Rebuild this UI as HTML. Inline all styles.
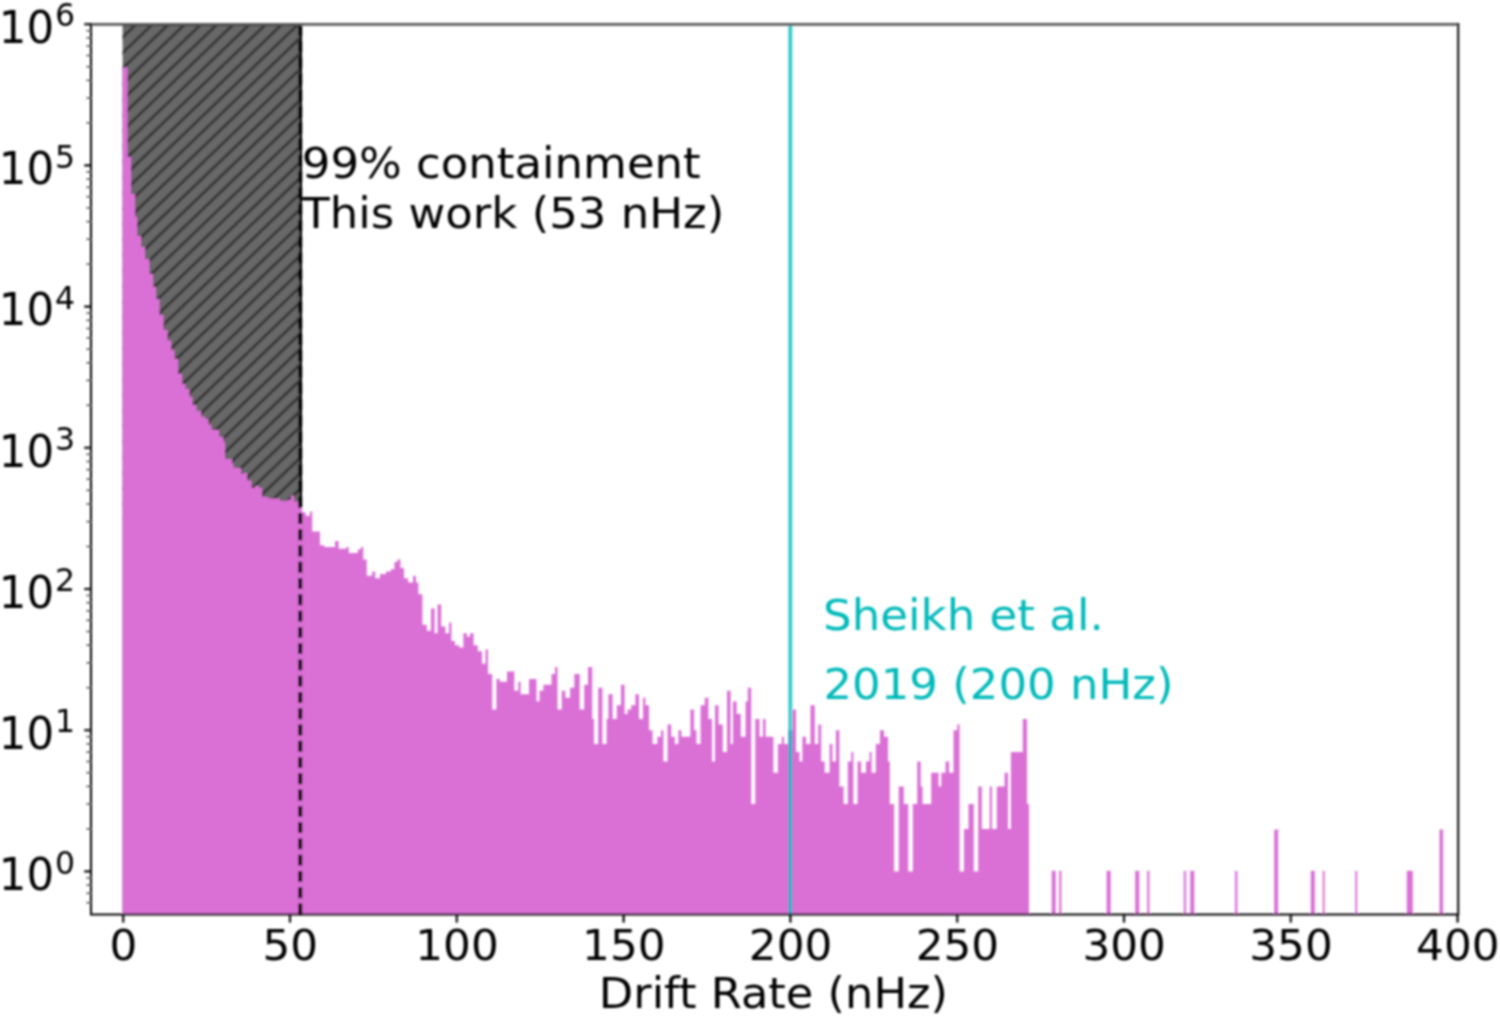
<!DOCTYPE html>
<html lang="en"><head><meta charset="utf-8"><title>Drift Rate histogram</title>
<style>html,body{margin:0;padding:0;background:#fff;overflow:hidden}svg{display:block}text{font-family:"DejaVu Sans","Liberation Sans",sans-serif;}</style></head><body>
<svg width="1500" height="1017" viewBox="0 0 1500 1017">
<defs>
<pattern id="hatch" patternUnits="userSpaceOnUse" width="16.3" height="16.3" x="0" y="0"><rect width="16.3" height="16.3" fill="#676767"/><path d="M-4.075,4.075 L4.075,-4.075 M0,16.3 L16.3,0 M12.225,20.375 L20.375,12.225" stroke="#383838" stroke-width="2.6" fill="none"/></pattern>
<filter id="soft" x="0" y="0" width="100%" height="100%" filterUnits="userSpaceOnUse"><feGaussianBlur stdDeviation="0.85"/></filter>
<clipPath id="ax"><rect x="91.0" y="24.4" width="1367.2" height="890.0"/></clipPath>
</defs>
<rect width="1500" height="1017" fill="#fff"/>
<g filter="url(#soft)">
<rect x="122.6" y="24.4" width="178.4" height="890.0" fill="#676767"/>
<clipPath id="gclip"><rect x="122.6" y="24.4" width="178.4" height="495.6"/></clipPath>
<g clip-path="url(#gclip)">
<line x1="117.6" y1="26.59" x2="306.0" y2="-154.27" stroke="#383838" stroke-width="3.0"/>
<line x1="117.6" y1="42.14" x2="306.0" y2="-138.72" stroke="#383838" stroke-width="3.0"/>
<line x1="117.6" y1="57.70" x2="306.0" y2="-123.17" stroke="#383838" stroke-width="3.0"/>
<line x1="117.6" y1="73.25" x2="306.0" y2="-107.62" stroke="#383838" stroke-width="3.0"/>
<line x1="117.6" y1="88.80" x2="306.0" y2="-92.06" stroke="#383838" stroke-width="3.0"/>
<line x1="117.6" y1="104.35" x2="306.0" y2="-76.51" stroke="#383838" stroke-width="3.0"/>
<line x1="117.6" y1="119.90" x2="306.0" y2="-60.96" stroke="#383838" stroke-width="3.0"/>
<line x1="117.6" y1="135.46" x2="306.0" y2="-45.41" stroke="#383838" stroke-width="3.0"/>
<line x1="117.6" y1="151.01" x2="306.0" y2="-29.86" stroke="#383838" stroke-width="3.0"/>
<line x1="117.6" y1="166.56" x2="306.0" y2="-14.30" stroke="#383838" stroke-width="3.0"/>
<line x1="117.6" y1="182.11" x2="306.0" y2="1.25" stroke="#383838" stroke-width="3.0"/>
<line x1="117.6" y1="197.66" x2="306.0" y2="16.80" stroke="#383838" stroke-width="3.0"/>
<line x1="117.6" y1="213.22" x2="306.0" y2="32.35" stroke="#383838" stroke-width="3.0"/>
<line x1="117.6" y1="228.77" x2="306.0" y2="47.90" stroke="#383838" stroke-width="3.0"/>
<line x1="117.6" y1="244.32" x2="306.0" y2="63.46" stroke="#383838" stroke-width="3.0"/>
<line x1="117.6" y1="259.87" x2="306.0" y2="79.01" stroke="#383838" stroke-width="3.0"/>
<line x1="117.6" y1="275.42" x2="306.0" y2="94.56" stroke="#383838" stroke-width="3.0"/>
<line x1="117.6" y1="290.98" x2="306.0" y2="110.11" stroke="#383838" stroke-width="3.0"/>
<line x1="117.6" y1="306.53" x2="306.0" y2="125.66" stroke="#383838" stroke-width="3.0"/>
<line x1="117.6" y1="322.08" x2="306.0" y2="141.22" stroke="#383838" stroke-width="3.0"/>
<line x1="117.6" y1="337.63" x2="306.0" y2="156.77" stroke="#383838" stroke-width="3.0"/>
<line x1="117.6" y1="353.18" x2="306.0" y2="172.32" stroke="#383838" stroke-width="3.0"/>
<line x1="117.6" y1="368.74" x2="306.0" y2="187.87" stroke="#383838" stroke-width="3.0"/>
<line x1="117.6" y1="384.29" x2="306.0" y2="203.42" stroke="#383838" stroke-width="3.0"/>
<line x1="117.6" y1="399.84" x2="306.0" y2="218.98" stroke="#383838" stroke-width="3.0"/>
<line x1="117.6" y1="415.39" x2="306.0" y2="234.53" stroke="#383838" stroke-width="3.0"/>
<line x1="117.6" y1="430.94" x2="306.0" y2="250.08" stroke="#383838" stroke-width="3.0"/>
<line x1="117.6" y1="446.50" x2="306.0" y2="265.63" stroke="#383838" stroke-width="3.0"/>
<line x1="117.6" y1="462.05" x2="306.0" y2="281.18" stroke="#383838" stroke-width="3.0"/>
<line x1="117.6" y1="477.60" x2="306.0" y2="296.74" stroke="#383838" stroke-width="3.0"/>
<line x1="117.6" y1="493.15" x2="306.0" y2="312.29" stroke="#383838" stroke-width="3.0"/>
<line x1="117.6" y1="508.70" x2="306.0" y2="327.84" stroke="#383838" stroke-width="3.0"/>
<line x1="117.6" y1="524.26" x2="306.0" y2="343.39" stroke="#383838" stroke-width="3.0"/>
<line x1="117.6" y1="539.81" x2="306.0" y2="358.94" stroke="#383838" stroke-width="3.0"/>
<line x1="117.6" y1="555.36" x2="306.0" y2="374.50" stroke="#383838" stroke-width="3.0"/>
<line x1="117.6" y1="570.91" x2="306.0" y2="390.05" stroke="#383838" stroke-width="3.0"/>
<line x1="117.6" y1="586.46" x2="306.0" y2="405.60" stroke="#383838" stroke-width="3.0"/>
<line x1="117.6" y1="602.02" x2="306.0" y2="421.15" stroke="#383838" stroke-width="3.0"/>
<line x1="117.6" y1="617.57" x2="306.0" y2="436.70" stroke="#383838" stroke-width="3.0"/>
<line x1="117.6" y1="633.12" x2="306.0" y2="452.26" stroke="#383838" stroke-width="3.0"/>
<line x1="117.6" y1="648.67" x2="306.0" y2="467.81" stroke="#383838" stroke-width="3.0"/>
<line x1="117.6" y1="664.22" x2="306.0" y2="483.36" stroke="#383838" stroke-width="3.0"/>
<line x1="117.6" y1="679.78" x2="306.0" y2="498.91" stroke="#383838" stroke-width="3.0"/>
<line x1="117.6" y1="695.33" x2="306.0" y2="514.46" stroke="#383838" stroke-width="3.0"/>
</g>
<line x1="122.6" y1="24.4" x2="301.0" y2="24.4" stroke="#0a0a0a" stroke-width="3.0"/>
<path d="M122.5,914.4 L122.5,67.5 L127.5,67.5 L127.5,157.0 L131.0,157.0 L131.0,194.0 L135.0,194.0 L135.0,217.0 L137.2,217.0 L137.2,236.0 L141.0,236.0 L141.0,247.0 L145.0,247.0 L145.0,259.0 L149.5,259.0 L149.5,274.0 L153.0,274.0 L153.0,287.0 L156.0,287.0 L156.0,299.0 L159.5,299.0 L159.5,315.0 L163.5,315.0 L163.5,330.0 L167.5,330.0 L167.5,340.5 L171.2,340.5 L171.2,350.0 L174.5,350.0 L174.5,359.0 L178.0,359.0 L178.0,374.0 L182.0,374.0 L182.0,384.0 L185.5,384.0 L185.5,389.0 L189.5,389.0 L189.5,397.0 L192.5,397.0 L192.5,405.0 L196.5,405.0 L196.5,411.0 L201.0,411.0 L201.0,416.5 L205.0,416.5 L205.0,419.0 L208.5,419.0 L208.5,425.0 L211.5,425.0 L211.5,430.0 L219.0,430.0 L219.0,437.0 L223.5,437.0 L223.5,442.0 L225.0,442.0 L225.0,459.0 L232.0,459.0 L232.0,464.0 L233.5,464.0 L233.5,468.0 L241.0,468.0 L241.0,474.0 L244.0,474.0 L244.0,473.0 L247.0,473.0 L247.0,480.5 L251.5,480.5 L251.5,488.0 L255.0,488.0 L255.0,486.0 L259.0,486.0 L259.0,488.0 L262.0,488.0 L262.0,497.0 L268.0,497.0 L268.0,498.5 L280.0,498.5 L280.0,501.0 L287.0,501.0 L287.0,500.0 L291.0,500.0 L291.0,495.4 L294.0,495.4 L294.0,501.4 L298.0,501.4 L298.0,505.0 L302.0,505.0 L302.0,512.2 L305.6,512.2 L305.6,515.8 L309.8,515.8 L309.8,511.5 L312.2,511.5 L312.2,531.5 L320.0,531.5 L320.0,545.2 L324.2,545.2 L324.2,547.0 L335.0,547.0 L335.0,541.0 L338.6,541.0 L338.6,548.8 L346.4,548.8 L346.4,547.0 L348.8,547.0 L348.8,553.0 L357.8,553.0 L357.8,549.4 L360.8,549.4 L360.8,547.0 L363.2,547.0 L363.2,559.6 L366.8,559.6 L366.8,575.8 L372.2,575.8 L372.2,571.6 L375.2,571.6 L375.2,578.2 L380.0,578.2 L380.0,574.0 L386.0,574.0 L386.0,571.6 L390.8,571.6 L390.8,569.2 L394.4,569.2 L394.4,562.0 L397.4,562.0 L397.4,559.6 L400.4,559.6 L400.4,568.0 L404.0,568.0 L404.0,578.2 L408.2,578.2 L408.2,582.4 L413.0,582.4 L413.0,576.0 L416.0,576.0 L416.0,582.6 L418.4,582.6 L418.4,594.3 L422.4,594.3 L422.4,624.8 L426.8,624.8 L426.8,630.8 L431.0,630.8 L431.0,608.6 L434.6,608.6 L434.6,633.2 L437.6,633.2 L437.6,604.4 L441.2,604.4 L441.2,626.6 L445.4,626.6 L445.4,633.2 L449.0,633.2 L449.0,622.4 L451.4,622.4 L451.4,641.0 L455.0,641.0 L455.0,645.2 L459.2,645.2 L459.2,647.6 L463.4,647.6 L463.4,633.2 L467.0,633.2 L467.0,636.8 L470.0,636.8 L470.0,633.2 L473.6,633.2 L473.6,645.2 L477.8,645.2 L477.8,651.2 L482.0,651.2 L482.0,663.8 L485.6,663.8 L485.6,649.4 L488.0,649.4 L488.0,674.0 L492.2,674.0 L492.2,709.6 L496.4,709.6 L496.4,679.1 L499.8,679.1 L499.8,681.8 L507.0,681.8 L507.0,671.6 L514.3,671.6 L514.3,690.8 L518.2,690.8 L518.2,681.8 L520.6,681.8 L520.6,694.2 L529.0,694.2 L529.0,679.1 L536.5,679.1 L536.5,701.4 L539.5,701.4 L539.5,690.8 L543.4,690.8 L543.4,684.7 L551.5,684.7 L551.5,674.0 L555.0,674.0 L555.0,667.1 L557.5,667.1 L557.5,709.6 L561.7,709.6 L561.7,690.8 L565.3,690.8 L565.3,697.7 L570.1,697.7 L570.1,687.7 L574.3,687.7 L574.3,674.0 L579.7,674.0 L579.7,709.6 L584.2,709.6 L584.2,684.7 L588.0,684.7 L588.0,667.1 L592.2,667.1 L592.2,719.0 L594.0,719.0 L594.0,743.9 L598.2,743.9 L598.2,687.7 L602.4,687.7 L602.4,743.9 L606.6,743.9 L606.6,719.0 L608.4,719.0 L608.4,694.2 L612.6,694.2 L612.6,719.0 L616.8,719.0 L616.8,705.3 L621.0,705.3 L621.0,684.7 L624.6,684.7 L624.6,714.1 L627.6,714.1 L627.6,709.6 L631.2,709.6 L631.2,705.3 L635.4,705.3 L635.4,694.2 L639.0,694.2 L639.0,719.0 L643.0,719.0 L643.0,697.7 L645.4,697.7 L645.4,705.3 L649.0,705.3 L649.0,730.2 L652.6,730.2 L652.6,743.9 L657.4,743.9 L657.4,736.7 L661.0,736.7 L661.0,730.2 L663.4,730.2 L663.4,761.5 L667.6,761.5 L667.6,724.4 L671.2,724.4 L671.2,736.7 L674.8,736.7 L674.8,743.9 L678.4,743.9 L678.4,730.2 L681.4,730.2 L681.4,736.7 L690.4,736.7 L690.4,709.6 L694.0,709.6 L694.0,730.2 L696.4,730.2 L696.4,743.9 L700.6,743.9 L700.6,705.3 L704.8,705.3 L704.8,697.7 L708.4,697.7 L708.4,719.0 L712.0,719.0 L712.0,761.5 L715.0,761.5 L715.0,705.3 L718.6,705.3 L718.6,724.4 L722.8,724.4 L722.8,752.1 L727.0,752.1 L727.0,690.8 L730.6,690.8 L730.6,743.9 L733.0,743.9 L733.0,701.4 L736.6,701.4 L736.6,714.1 L740.8,714.1 L740.8,736.7 L745.6,736.7 L745.6,701.4 L747.8,701.4 L747.8,687.7 L751.2,687.7 L751.2,804.0 L755.3,804.0 L755.3,719.0 L759.5,719.0 L759.5,736.7 L763.0,736.7 L763.0,719.0 L765.6,719.0 L765.6,736.7 L773.4,736.7 L773.4,772.7 L777.9,772.7 L777.9,743.9 L781.8,743.9 L781.8,736.7 L784.0,736.7 L784.0,743.9 L788.3,743.9 L788.3,730.2 L792.5,730.2 L792.5,709.6 L796.0,709.6 L796.0,752.1 L799.5,752.1 L799.5,761.5 L802.4,761.5 L802.4,736.7 L806.0,736.7 L806.0,743.9 L810.5,743.9 L810.5,705.3 L814.8,705.3 L814.8,743.9 L818.3,743.9 L818.3,724.4 L821.2,724.4 L821.2,761.5 L824.7,761.5 L824.7,772.7 L829.6,772.7 L829.6,743.9 L832.4,743.9 L832.4,761.5 L835.9,761.5 L835.9,730.2 L839.4,730.2 L839.4,786.4 L843.6,786.4 L843.6,804.0 L847.8,804.0 L847.8,761.5 L851.3,761.5 L851.3,752.1 L853.4,752.1 L853.4,804.0 L857.6,804.0 L857.6,761.5 L861.1,761.5 L861.1,772.7 L866.0,772.7 L866.0,761.5 L869.5,761.5 L869.5,752.1 L871.6,752.1 L871.6,772.7 L875.8,772.7 L875.8,743.9 L880.0,743.9 L880.0,730.2 L884.0,730.2 L884.0,736.7 L888.0,736.7 L888.0,761.5 L889.8,761.5 L889.8,804.0 L894.1,804.0 L894.1,871.4 L898.7,871.4 L898.7,786.4 L903.8,786.4 L903.8,804.0 L908.2,804.0 L908.2,871.4 L912.8,871.4 L912.8,804.0 L917.2,804.0 L917.2,761.5 L920.7,761.5 L920.7,786.4 L922.6,786.4 L922.6,804.0 L931.2,804.0 L931.2,772.7 L938.6,772.7 L938.6,786.4 L941.3,786.4 L941.3,772.7 L945.6,772.7 L945.6,761.5 L949.1,761.5 L949.1,772.7 L953.5,772.7 L953.5,730.2 L957.3,730.2 L957.3,724.4 L959.6,724.4 L959.6,871.4 L964.0,871.4 L964.0,828.9 L968.5,828.9 L968.5,804.0 L973.8,804.0 L973.8,871.4 L978.2,871.4 L978.2,786.4 L981.8,786.4 L981.8,828.9 L989.7,828.9 L989.7,786.4 L992.0,786.4 L992.0,828.9 L996.8,828.9 L996.8,786.4 L1004.6,786.4 L1004.6,772.7 L1008.0,772.7 L1008.0,828.9 L1010.9,828.9 L1010.9,752.1 L1022.8,752.1 L1022.8,719.0 L1027.0,719.0 L1027.0,804.0 L1029.0,804.0 L1029.0,914.4 Z" fill="#da70d6"/>
<rect x="1051.7" y="870.8" width="4.0" height="43.6" fill="#da70d6" fill-opacity="1.0"/>
<rect x="1059.0" y="870.8" width="2.5" height="43.6" fill="#da70d6" fill-opacity="0.9"/>
<rect x="1106.6" y="870.8" width="4.1" height="43.6" fill="#da70d6" fill-opacity="1.0"/>
<rect x="1135.2" y="870.8" width="4.1" height="43.6" fill="#da70d6" fill-opacity="1.0"/>
<rect x="1147.0" y="870.8" width="2.5" height="43.6" fill="#da70d6" fill-opacity="0.9"/>
<rect x="1183.7" y="870.8" width="2.5" height="43.6" fill="#da70d6" fill-opacity="0.9"/>
<rect x="1190.2" y="870.8" width="4.1" height="43.6" fill="#da70d6" fill-opacity="1.0"/>
<rect x="1234.9" y="870.8" width="2.6" height="43.6" fill="#da70d6" fill-opacity="0.9"/>
<rect x="1274.2" y="829.5" width="3.9" height="84.9" fill="#da70d6" fill-opacity="1.0"/>
<rect x="1310.8" y="870.8" width="4.0" height="43.6" fill="#da70d6" fill-opacity="1.0"/>
<rect x="1322.6" y="870.8" width="2.2" height="43.6" fill="#da70d6" fill-opacity="0.9"/>
<rect x="1355.1" y="870.8" width="2.2" height="43.6" fill="#da70d6" fill-opacity="0.9"/>
<rect x="1406.8" y="870.8" width="6.0" height="43.6" fill="#da70d6" fill-opacity="1.0"/>
<rect x="1439.5" y="829.5" width="3.6" height="84.9" fill="#da70d6" fill-opacity="1.0"/>
<line x1="300.7" y1="24.4" x2="300.7" y2="504" stroke="#050505" stroke-width="2.6"/>
<line x1="300.2" y1="914.4" x2="300.2" y2="24.4" stroke="#000" stroke-width="4.1" stroke-dasharray="10.9 5.37"/>
<line x1="790.3" y1="914.4" x2="790.3" y2="24.4" stroke="rgba(0,191,191,0.8)" stroke-width="3.9"/>
<path d="M91.0,24.4 H1458.2" fill="none" stroke="#5c5c5c" stroke-width="2.6"/>
<path d="M91.0,23.099999999999998 V914.4 H1458.2 V23.099999999999998" fill="none" stroke="#000" stroke-width="2.0" stroke-linejoin="miter"/>
<line x1="123.2" y1="914.4" x2="123.2" y2="922.6" stroke="#0a0a0a" stroke-width="2.2"/>
<line x1="290.0" y1="914.4" x2="290.0" y2="922.6" stroke="#0a0a0a" stroke-width="2.2"/>
<line x1="456.8" y1="914.4" x2="456.8" y2="922.6" stroke="#0a0a0a" stroke-width="2.2"/>
<line x1="623.6" y1="914.4" x2="623.6" y2="922.6" stroke="#0a0a0a" stroke-width="2.2"/>
<line x1="790.4" y1="914.4" x2="790.4" y2="922.6" stroke="#0a0a0a" stroke-width="2.2"/>
<line x1="957.2" y1="914.4" x2="957.2" y2="922.6" stroke="#0a0a0a" stroke-width="2.2"/>
<line x1="1124.0" y1="914.4" x2="1124.0" y2="922.6" stroke="#0a0a0a" stroke-width="2.2"/>
<line x1="1290.8" y1="914.4" x2="1290.8" y2="922.6" stroke="#0a0a0a" stroke-width="2.2"/>
<line x1="1457.6" y1="914.4" x2="1457.6" y2="922.6" stroke="#0a0a0a" stroke-width="2.2"/>
<line x1="91.0" y1="871.4" x2="84.3" y2="871.4" stroke="#0a0a0a" stroke-width="2.2"/>
<line x1="91.0" y1="730.2" x2="84.3" y2="730.2" stroke="#0a0a0a" stroke-width="2.2"/>
<line x1="91.0" y1="589.0" x2="84.3" y2="589.0" stroke="#0a0a0a" stroke-width="2.2"/>
<line x1="91.0" y1="447.8" x2="84.3" y2="447.8" stroke="#0a0a0a" stroke-width="2.2"/>
<line x1="91.0" y1="306.6" x2="84.3" y2="306.6" stroke="#0a0a0a" stroke-width="2.2"/>
<line x1="91.0" y1="165.4" x2="84.3" y2="165.4" stroke="#0a0a0a" stroke-width="2.2"/>
<line x1="91.0" y1="24.2" x2="84.3" y2="24.2" stroke="#0a0a0a" stroke-width="2.2"/>
<line x1="91.0" y1="902.7" x2="86.4" y2="902.7" stroke="#555" stroke-width="1.6"/>
<line x1="91.0" y1="893.3" x2="86.4" y2="893.3" stroke="#555" stroke-width="1.6"/>
<line x1="91.0" y1="885.1" x2="86.4" y2="885.1" stroke="#555" stroke-width="1.6"/>
<line x1="91.0" y1="877.9" x2="86.4" y2="877.9" stroke="#555" stroke-width="1.6"/>
<line x1="91.0" y1="828.9" x2="86.4" y2="828.9" stroke="#555" stroke-width="1.6"/>
<line x1="91.0" y1="804.0" x2="86.4" y2="804.0" stroke="#555" stroke-width="1.6"/>
<line x1="91.0" y1="786.4" x2="86.4" y2="786.4" stroke="#555" stroke-width="1.6"/>
<line x1="91.0" y1="772.7" x2="86.4" y2="772.7" stroke="#555" stroke-width="1.6"/>
<line x1="91.0" y1="761.5" x2="86.4" y2="761.5" stroke="#555" stroke-width="1.6"/>
<line x1="91.0" y1="752.1" x2="86.4" y2="752.1" stroke="#555" stroke-width="1.6"/>
<line x1="91.0" y1="743.9" x2="86.4" y2="743.9" stroke="#555" stroke-width="1.6"/>
<line x1="91.0" y1="736.7" x2="86.4" y2="736.7" stroke="#555" stroke-width="1.6"/>
<line x1="91.0" y1="687.7" x2="86.4" y2="687.7" stroke="#555" stroke-width="1.6"/>
<line x1="91.0" y1="662.8" x2="86.4" y2="662.8" stroke="#555" stroke-width="1.6"/>
<line x1="91.0" y1="645.2" x2="86.4" y2="645.2" stroke="#555" stroke-width="1.6"/>
<line x1="91.0" y1="631.5" x2="86.4" y2="631.5" stroke="#555" stroke-width="1.6"/>
<line x1="91.0" y1="620.3" x2="86.4" y2="620.3" stroke="#555" stroke-width="1.6"/>
<line x1="91.0" y1="610.9" x2="86.4" y2="610.9" stroke="#555" stroke-width="1.6"/>
<line x1="91.0" y1="602.7" x2="86.4" y2="602.7" stroke="#555" stroke-width="1.6"/>
<line x1="91.0" y1="595.5" x2="86.4" y2="595.5" stroke="#555" stroke-width="1.6"/>
<line x1="91.0" y1="546.5" x2="86.4" y2="546.5" stroke="#555" stroke-width="1.6"/>
<line x1="91.0" y1="521.6" x2="86.4" y2="521.6" stroke="#555" stroke-width="1.6"/>
<line x1="91.0" y1="504.0" x2="86.4" y2="504.0" stroke="#555" stroke-width="1.6"/>
<line x1="91.0" y1="490.3" x2="86.4" y2="490.3" stroke="#555" stroke-width="1.6"/>
<line x1="91.0" y1="479.1" x2="86.4" y2="479.1" stroke="#555" stroke-width="1.6"/>
<line x1="91.0" y1="469.7" x2="86.4" y2="469.7" stroke="#555" stroke-width="1.6"/>
<line x1="91.0" y1="461.5" x2="86.4" y2="461.5" stroke="#555" stroke-width="1.6"/>
<line x1="91.0" y1="454.3" x2="86.4" y2="454.3" stroke="#555" stroke-width="1.6"/>
<line x1="91.0" y1="405.3" x2="86.4" y2="405.3" stroke="#555" stroke-width="1.6"/>
<line x1="91.0" y1="380.4" x2="86.4" y2="380.4" stroke="#555" stroke-width="1.6"/>
<line x1="91.0" y1="362.8" x2="86.4" y2="362.8" stroke="#555" stroke-width="1.6"/>
<line x1="91.0" y1="349.1" x2="86.4" y2="349.1" stroke="#555" stroke-width="1.6"/>
<line x1="91.0" y1="337.9" x2="86.4" y2="337.9" stroke="#555" stroke-width="1.6"/>
<line x1="91.0" y1="328.5" x2="86.4" y2="328.5" stroke="#555" stroke-width="1.6"/>
<line x1="91.0" y1="320.3" x2="86.4" y2="320.3" stroke="#555" stroke-width="1.6"/>
<line x1="91.0" y1="313.1" x2="86.4" y2="313.1" stroke="#555" stroke-width="1.6"/>
<line x1="91.0" y1="264.1" x2="86.4" y2="264.1" stroke="#555" stroke-width="1.6"/>
<line x1="91.0" y1="239.2" x2="86.4" y2="239.2" stroke="#555" stroke-width="1.6"/>
<line x1="91.0" y1="221.6" x2="86.4" y2="221.6" stroke="#555" stroke-width="1.6"/>
<line x1="91.0" y1="207.9" x2="86.4" y2="207.9" stroke="#555" stroke-width="1.6"/>
<line x1="91.0" y1="196.7" x2="86.4" y2="196.7" stroke="#555" stroke-width="1.6"/>
<line x1="91.0" y1="187.3" x2="86.4" y2="187.3" stroke="#555" stroke-width="1.6"/>
<line x1="91.0" y1="179.1" x2="86.4" y2="179.1" stroke="#555" stroke-width="1.6"/>
<line x1="91.0" y1="171.9" x2="86.4" y2="171.9" stroke="#555" stroke-width="1.6"/>
<line x1="91.0" y1="122.9" x2="86.4" y2="122.9" stroke="#555" stroke-width="1.6"/>
<line x1="91.0" y1="98.0" x2="86.4" y2="98.0" stroke="#555" stroke-width="1.6"/>
<line x1="91.0" y1="80.4" x2="86.4" y2="80.4" stroke="#555" stroke-width="1.6"/>
<line x1="91.0" y1="66.7" x2="86.4" y2="66.7" stroke="#555" stroke-width="1.6"/>
<line x1="91.0" y1="55.5" x2="86.4" y2="55.5" stroke="#555" stroke-width="1.6"/>
<line x1="91.0" y1="46.1" x2="86.4" y2="46.1" stroke="#555" stroke-width="1.6"/>
<line x1="91.0" y1="37.9" x2="86.4" y2="37.9" stroke="#555" stroke-width="1.6"/>
<line x1="91.0" y1="30.7" x2="86.4" y2="30.7" stroke="#555" stroke-width="1.6"/>
<text transform="translate(123.4,959.6) scale(0.972,0.95)" font-size="45" text-anchor="middle" fill="#000">0</text>
<text transform="translate(290.2,959.6) scale(0.972,0.95)" font-size="45" text-anchor="middle" fill="#000">50</text>
<text transform="translate(457.0,959.6) scale(0.972,0.95)" font-size="45" text-anchor="middle" fill="#000">100</text>
<text transform="translate(623.8,959.6) scale(0.972,0.95)" font-size="45" text-anchor="middle" fill="#000">150</text>
<text transform="translate(790.6,959.6) scale(0.972,0.95)" font-size="45" text-anchor="middle" fill="#000">200</text>
<text transform="translate(957.4,959.6) scale(0.972,0.95)" font-size="45" text-anchor="middle" fill="#000">250</text>
<text transform="translate(1124.2,959.6) scale(0.972,0.95)" font-size="45" text-anchor="middle" fill="#000">300</text>
<text transform="translate(1291.0,959.6) scale(0.972,0.95)" font-size="45" text-anchor="middle" fill="#000">350</text>
<text transform="translate(1457.8,959.6) scale(0.972,0.95)" font-size="45" text-anchor="middle" fill="#000">400</text>
<text transform="translate(-1.2,890.2) scale(0.97,1.0)" font-size="44.8" text-anchor="start" fill="#000">10<tspan font-size="32.5" dx="0.9" dy="-16.6">0</tspan></text>
<text transform="translate(-1.2,749.0) scale(0.97,1.0)" font-size="44.8" text-anchor="start" fill="#000">10<tspan font-size="32.5" dx="0.9" dy="-16.6">1</tspan></text>
<text transform="translate(-1.2,607.8) scale(0.97,1.0)" font-size="44.8" text-anchor="start" fill="#000">10<tspan font-size="32.5" dx="0.9" dy="-16.6">2</tspan></text>
<text transform="translate(-1.2,466.6) scale(0.97,1.0)" font-size="44.8" text-anchor="start" fill="#000">10<tspan font-size="32.5" dx="0.9" dy="-16.6">3</tspan></text>
<text transform="translate(-1.2,325.4) scale(0.97,1.0)" font-size="44.8" text-anchor="start" fill="#000">10<tspan font-size="32.5" dx="0.9" dy="-16.6">4</tspan></text>
<text transform="translate(-1.2,184.2) scale(0.97,1.0)" font-size="44.8" text-anchor="start" fill="#000">10<tspan font-size="32.5" dx="0.9" dy="-16.6">5</tspan></text>
<text transform="translate(-1.2,43.0) scale(0.97,1.0)" font-size="44.8" text-anchor="start" fill="#000">10<tspan font-size="32.5" dx="0.9" dy="-16.6">6</tspan></text>
<text transform="translate(773.4,1008.2) scale(0.994,0.96)" font-size="45" text-anchor="middle" fill="#000">Drift Rate (nHz)</text>
<text transform="translate(301.8,178.0) scale(1,0.96)" font-size="45" text-anchor="start" fill="#000">99% containment</text>
<text transform="translate(302.3,228.4) scale(1,0.96)" font-size="45" text-anchor="start" fill="#000">This work (53 nHz)</text>
<text transform="translate(823.0,630.1) scale(1.003,0.96)" font-size="45" text-anchor="start" fill="#00b9b9">Sheikh et al.</text>
<text transform="translate(823.5,698.8) scale(1,0.96)" font-size="45" text-anchor="start" fill="#00b9b9">2019 (200 nHz)</text>
</g></svg></body></html>
